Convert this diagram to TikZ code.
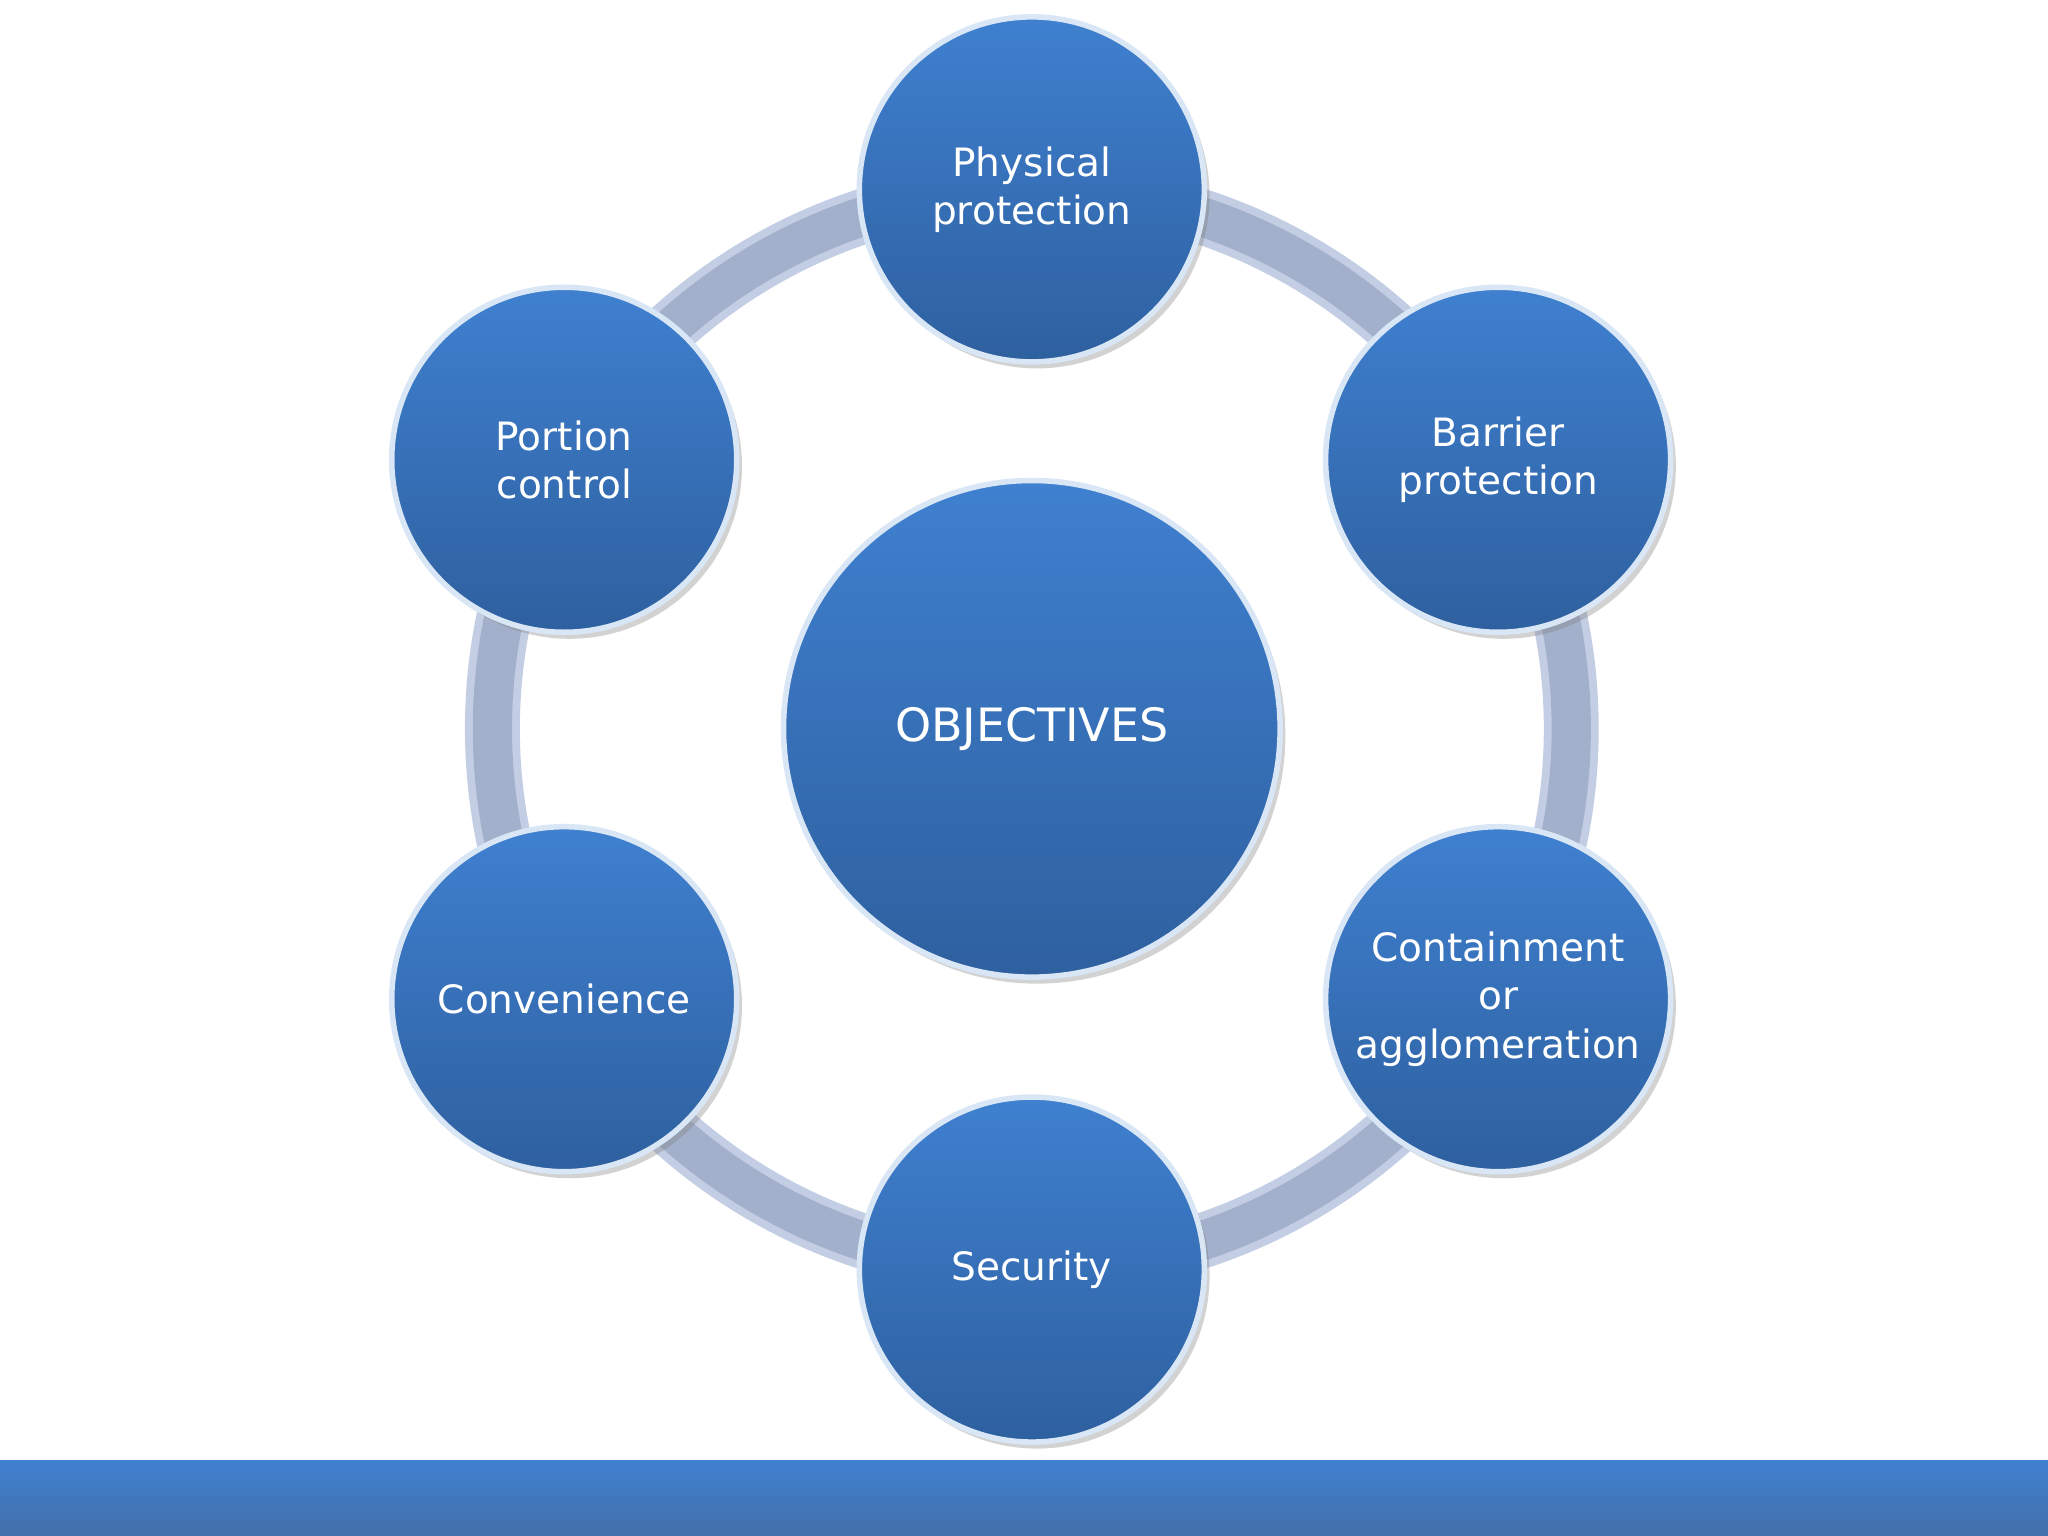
\documentclass[tikz,border=0pt]{standalone}
\usepackage{fontspec}
\setmainfont{DejaVu Sans}
\usetikzlibrary{shadows}
\definecolor{btop}{HTML}{3F80D0}
\definecolor{bbot}{HTML}{2E609F}
\definecolor{ringc}{HTML}{A9B9D8}
\tikzset{
  ball/.style={circle, minimum size=#1, inner sep=0pt, top color=btop, bottom color=bbot,
    draw=white!80!btop, line width=1.2pt, text=white, align=center,
    font=\fontsize{8.5pt}{10.5pt}\selectfont,
    drop shadow={shadow xshift=0.04cm, shadow yshift=-0.05cm, opacity=0.35}},
}
\begin{document}
\begin{tikzpicture}[x=0.01cm,y=-0.01cm]
\useasboundingbox (0,0) rectangle (1568,1176);
\fill[white] (0,0) rectangle (1568,1176);
\shade[top color=btop, bottom color=bbot!90] (0,1118) rectangle (1568,1176);
\coordinate (c) at (790,558);
\draw[ringc!70!white, line width=0.42cm] (c) circle [radius=413];
\draw[ringc!85!gray, line width=0.30cm] (c) circle [radius=413];
\node[ball=3.8cm, font=\fontsize{10pt}{12pt}\selectfont] (obj) at (790,558) {OBJECTIVES};
\node[ball=2.64cm] (phys) at (790,145) {Physical\\protection};
\node[ball=2.64cm] (barr) at (1147,352) {Barrier\\protection};
\node[ball=2.64cm] (cont) at (1147,765) {Containment\\or\\agglomeration};
\node[ball=2.64cm] (sec) at (790,972) {Security};
\node[ball=2.64cm] (conv) at (432,765) {Convenience};
\node[ball=2.64cm] (port) at (432,352) {Portion\\control};
\end{tikzpicture}
\end{document}
